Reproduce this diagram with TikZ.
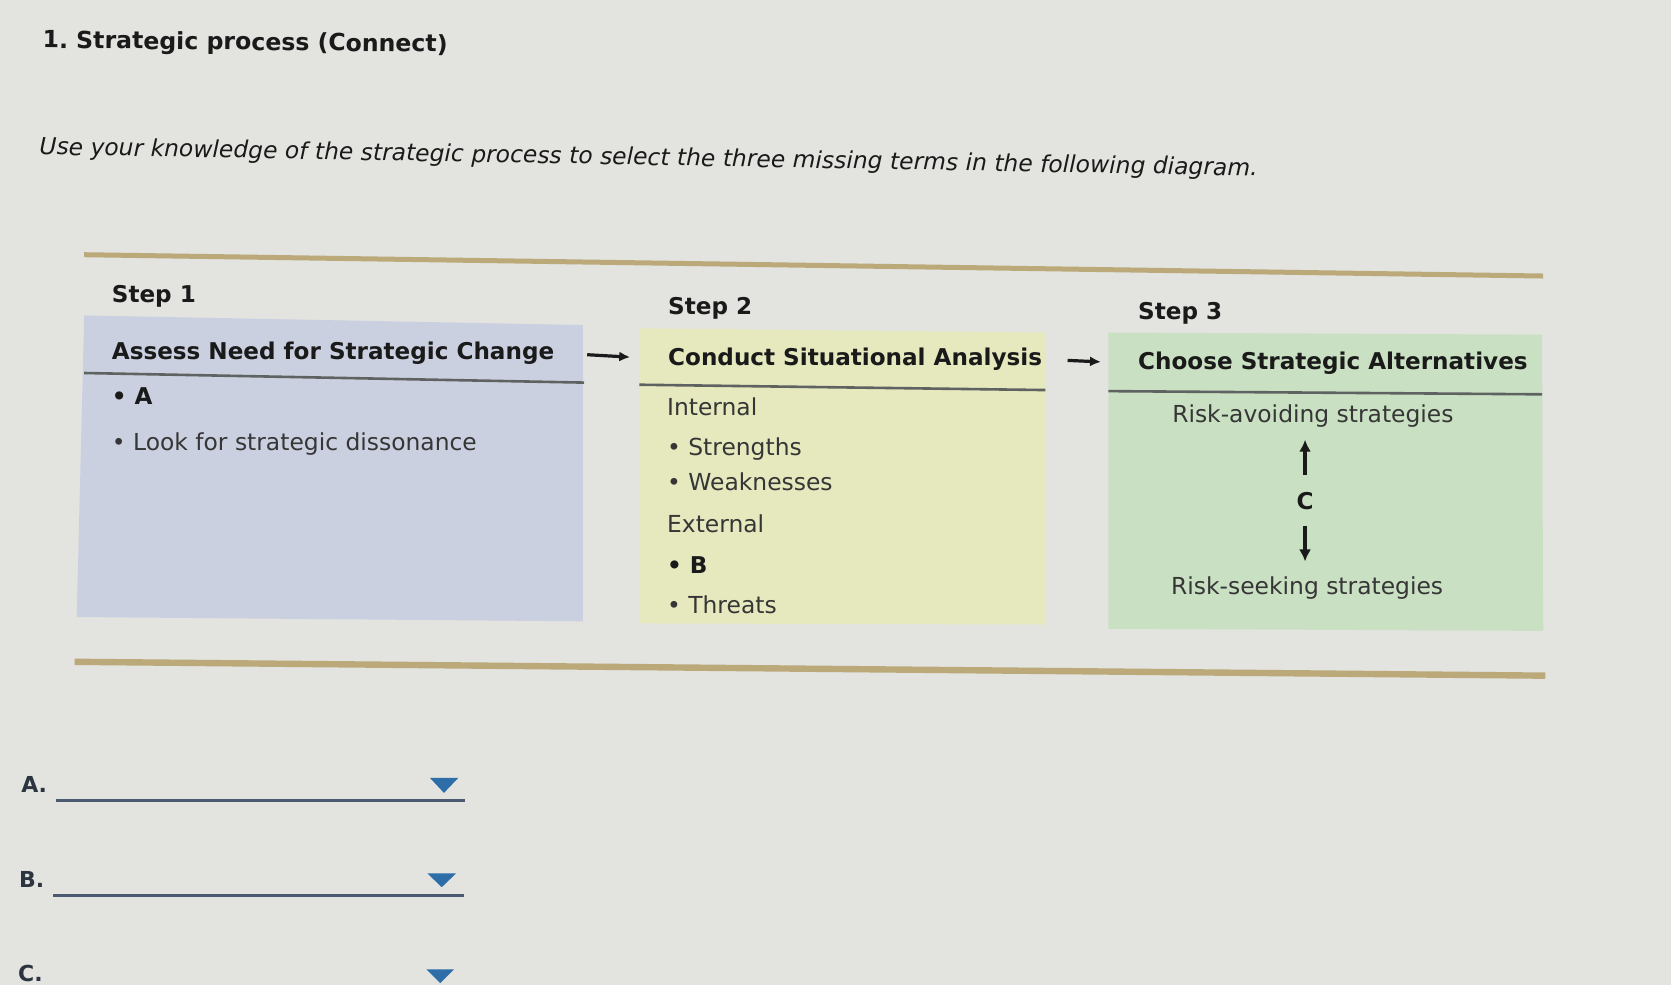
\documentclass[tikz,border=0pt]{standalone}
\usepackage{fontspec}
\setmainfont{DejaVu Sans}
\usetikzlibrary{arrows.meta}
\definecolor{bg}{HTML}{E3E3E0}
\definecolor{rulec}{HTML}{BBA97A}
\definecolor{boxa}{HTML}{CBD0E0}
\definecolor{boxb}{HTML}{E6E8BE}
\definecolor{boxc}{HTML}{C9E0C2}
\definecolor{sepc}{HTML}{5E6260}
\definecolor{txt}{HTML}{1A1A1A}
\definecolor{bodyc}{HTML}{363636}
\definecolor{slate}{HTML}{4B5A6E}
\definecolor{tri}{HTML}{2E6EA8}
\definecolor{ansc}{HTML}{2B3440}
\begin{document}
\begin{tikzpicture}[x=0.53285pt,y=-0.53285pt,
  basetext/.style={inner sep=0pt,outer sep=0pt,anchor=base west},
  boldtext/.style={basetext,text=txt,font=\fontsize{11.55}{14}\selectfont\bfseries},
  plaintext/.style={basetext,text=bodyc,font=\fontsize{11.7}{14}\selectfont},
  titletext/.style={basetext,text=txt,font=\fontsize{11.8}{14}\selectfont\bfseries},
  questiontext/.style={basetext,text=txt,font=\fontsize{11.7}{14}\selectfont\itshape},
  answerlabel/.style={basetext,text=ansc,font=\fontsize{11}{13}\selectfont\bfseries},
  seprule/.style={draw=sepc,line width=1.3pt},
  harrow/.style={draw=txt,line width=1.6pt,-{Latex[length=5.5pt,width=5pt]}},
  varrow/.style={draw=txt,line width=2pt,-{Latex[length=6pt,width=6pt]}},
  answerline/.style={draw=slate,line width=1.6pt},
  dropdown/.style={fill=tri}
]
\useasboundingbox (0,0) rectangle (1568,924.3);
\fill[bg] (0,0) rectangle (1568,924.3);
\clip (0,0) rectangle (1568,924.3);

% title and question
\node[titletext,rotate=-0.6] (title) at (40,45) {1.\ Strategic process (Connect)};
\node[questiontext,rotate=-1] (question) at (37,145) {Use your knowledge of the strategic process to select the three missing terms in the following diagram.};

% rules
\draw[draw=rulec,line width=2.5pt] (79,239) -- (1448,259);
\draw[draw=rulec,line width=3.2pt] (70,621) -- (1450,634);

% boxes
\fill[boxa] (79,296) -- (547,305) -- (547,583) -- (72,579) -- cycle;
\draw[seprule] (79,350) -- (548,359);
\fill[boxb] (600,308) -- (981,312) -- (981,586) -- (600,585) -- cycle;
\draw[seprule] (600,361) -- (981,366);
\fill[boxc] (1040,312) -- (1447,314) -- (1448,592) -- (1040,590) -- cycle;
\draw[seprule] (1040,367) -- (1447,370);

% step 1
\node[boldtext] (s1) at (105,284) {Step 1};
\node[boldtext] (h1) at (105,337) {Assess Need for Strategic Change};
\node[boldtext] (a1) at (105,380) {• A};
\node[plaintext] (a2) at (105,423) {• Look for strategic dissonance};

% step 2
\node[boldtext] (s2) at (627,295) {Step 2};
\node[boldtext] (h2) at (627,343) {Conduct Situational Analysis};
\node[plaintext] (b1) at (626,390) {Internal};
\node[plaintext] (b2) at (626,427) {• Strengths};
\node[plaintext] (b3) at (626,460) {• Weaknesses};
\node[plaintext] (b4) at (626,500) {External};
\node[boldtext] (b5) at (626,538) {• B};
\node[plaintext] (b6) at (626,576) {• Threats};

% step 3
\node[boldtext] (s3) at (1068,300) {Step 3};
\node[boldtext] (h3) at (1068,347) {Choose Strategic Alternatives};
\node[plaintext] (avoid) at (1100,396) {Risk-avoiding strategies};
\node[boldtext,anchor=center] (cnode) at (1224.6,470) {C};
\node[plaintext] (seek) at (1099,558) {Risk-seeking strategies};

% arrows
\draw[harrow,shorten <=16.5pt,shorten >=19pt] (h1.east) -- (h2.west);
\draw[harrow,shorten <=12.8pt,shorten >=18.6pt] (h2.east) -- (h3.west);
\draw[varrow,shorten <=8.5pt,shorten >=6.4pt] (cnode.north) -- (cnode.north |- avoid.south);
\draw[varrow,shorten <=8pt,shorten >=7.7pt] (cnode.south) -- (cnode.south |- seek.north);

% answer area
\node[answerlabel] (la) at (20,744) {A.};
\coordinate (la1) at (53,751);
\coordinate (la2) at (436,751);
\draw[answerline] (la1) -- (la2);
\fill[dropdown] (403.5,730) -- (430,730) -- (416.6,744) -- cycle;

\node[answerlabel] (lb) at (18,833) {B.};
\coordinate (lb1) at (50,840);
\coordinate (lb2) at (435,840);
\draw[answerline] (lb1) -- (lb2);
\fill[dropdown] (401,819.5) -- (428,819.5) -- (414.5,832.5) -- cycle;

\node[answerlabel] (lc) at (17,921) {C.};
\fill[dropdown] (400,909.5) -- (426,909.5) -- (413,922.5) -- cycle;
\end{tikzpicture}
\end{document}
